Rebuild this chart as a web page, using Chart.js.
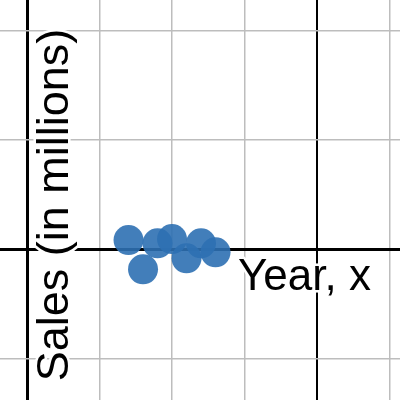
<!DOCTYPE html>
<html>
<head>
<meta charset="utf-8">
<script src="https://cdn.jsdelivr.net/npm/chart.js@4"></script>
<style>
  html, body { margin: 0; padding: 0; background: #fff; }
  #wrap { width: 400px; height: 400px; }
</style>
</head>
<body>
<div id="wrap"><canvas id="chart" width="400" height="400"></canvas></div>
<script>
// data
const years = [7, 8, 9, 10, 11, 12, 13];
const sales = [0.82, -1.86, 0.52, 0.91, -0.85, 0.52, -0.3];
const xTicks = [0, 5, 10, 15, 20, 25];
const yTicks = [-10, 0, 10, 20];
const xLabel = 'Year, x';
const yLabel = 'Sales (in millions)';

const points = years.map((x, i) => ({ x: x, y: sales[i] }));

// draws the two axis labels with a white halo, like the reference
const labelPlugin = {
    id: 'axisLabels',
    afterDraw(chart) {
        const ctx = chart.ctx;
        const xs = chart.scales.x, ys = chart.scales.y;
        ctx.save();
        ctx.lineJoin = 'round';
        ctx.lineWidth = 5;
        ctx.strokeStyle = '#fff';
        ctx.fillStyle = '#000';

        ctx.font = '44px "Liberation Sans", Arial, sans-serif';
        ctx.textBaseline = 'alphabetic';
        ctx.textAlign = 'left';
        let px = xs.getPixelForValue(14.55), py = ys.getPixelForValue(-3.75);
        ctx.strokeText(xLabel, px, py);
        ctx.fillText(xLabel, px, py);

        ctx.font = '45px "Liberation Sans", Arial, sans-serif';
        ctx.translate(68, 205);
        ctx.rotate(-Math.PI / 2);
        ctx.textAlign = 'center';
        ctx.strokeText(yLabel, 0, 0);
        ctx.fillText(yLabel, 0, 0);
        ctx.restore();
    }
};

function gridColor(ctx) {
    const v = ctx.tick && ctx.tick.value;
    if (v === 0) return '#000';
    if (ctx.scale.axis === 'x' && v === 20) return '#000';
    return '#bdbdbd';
}
function gridWidth(ctx) {
    const v = ctx.tick && ctx.tick.value;
    if (v === 0) return 3;
    if (ctx.scale.axis === 'x' && v === 20) return 2;
    return 1.5;
}

new Chart(document.getElementById('chart'), {
    type: 'scatter',
    data: {
        datasets: [{
            data: points,
            backgroundColor: 'rgba(45, 112, 179, 0.9)',
            borderWidth: 0,
            pointRadius: 15,
            pointHoverRadius: 15
        }]
    },
    options: {
        responsive: false,
        animation: false,
        layout: { padding: 0, autoPadding: false },
        plugins: {
            legend: { display: false },
            tooltip: { enabled: false }
        },
        scales: {
            x: {
                type: 'linear',
                min: -1.862,
                max: 25.72,
                afterBuildTicks: (scale) => { scale.ticks = xTicks.map(v => ({ value: v })); },
                ticks: { display: false },
                border: { display: false },
                grid: { drawTicks: false, color: gridColor, lineWidth: gridWidth }
            },
            y: {
                type: 'linear',
                min: -13.81,
                max: 22.78,
                afterBuildTicks: (scale) => { scale.ticks = yTicks.map(v => ({ value: v })); },
                ticks: { display: false },
                border: { display: false },
                grid: { drawTicks: false, color: gridColor, lineWidth: gridWidth }
            }
        }
    },
    plugins: [labelPlugin]
});
</script>
</body>
</html>
